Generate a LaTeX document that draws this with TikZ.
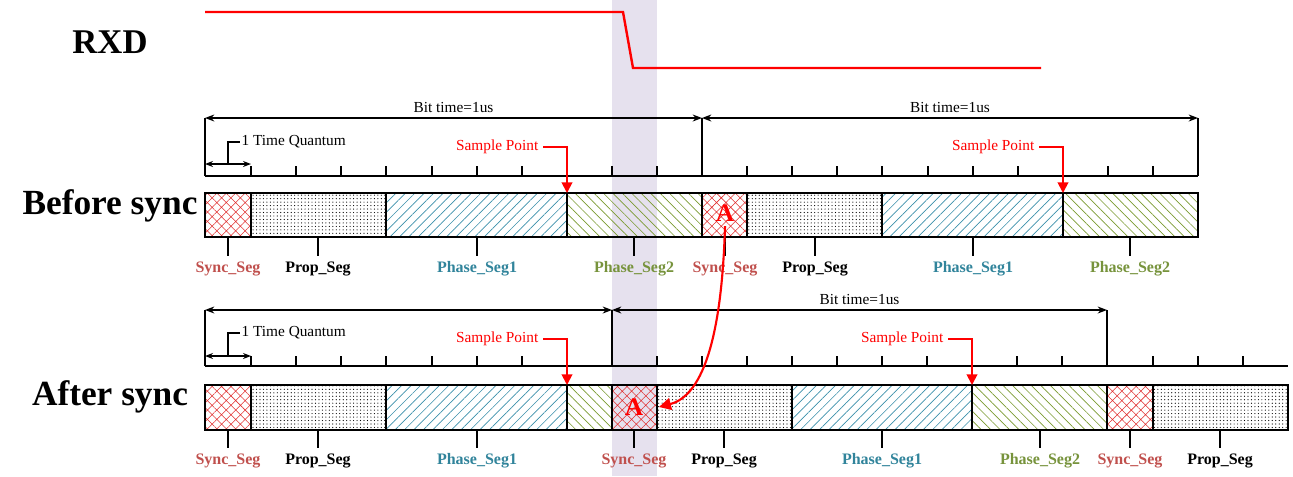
\documentclass[tikz,border=0pt]{standalone}
\usepackage{fontspec}
\setmainfont{Liberation Serif}
\usetikzlibrary{patterns.meta,arrows.meta}
\definecolor{syncc}{HTML}{E03030}
\definecolor{ph1c}{HTML}{3A8FAA}
\definecolor{ph2c}{HTML}{7A9A30}
\definecolor{synct}{HTML}{C0504D}
\definecolor{ph1t}{HTML}{31849B}
\definecolor{ph2t}{HTML}{77933C}
\definecolor{colshade}{HTML}{E6E1EE}
\begin{document}
\begin{tikzpicture}[x=0.75pt,y=-0.75pt,
  box/.style={draw=black,line width=1.4pt},
  sync/.style={box,pattern={Hatch[angle=45,distance=5pt,line width=0.4pt]},pattern color=syncc},
  prop/.style={box,pattern={Dots[distance=2.6pt,radius=0.45pt]},pattern color=black},
  ph1/.style={box,pattern={Lines[angle=45,distance=5pt,line width=0.5pt]},pattern color=ph1c},
  ph2/.style={box,pattern={Lines[angle=-45,distance=5pt,line width=0.5pt]},pattern color=ph2c},
  lab/.style={font=\fontsize{12}{14}\selectfont\bfseries,anchor=base},
  small/.style={font=\fontsize{11.5}{13}\selectfont},
  big/.style={font=\fontsize{26.5}{30}\selectfont\bfseries},
  ax/.style={line width=1.2pt},
  dim/.style={line width=1pt,{Stealth[length=7pt]}-{Stealth[length=7pt]}},
  sp/.style={red,line width=1.4pt,-{Triangle[length=8pt,width=8pt]}}]
\useasboundingbox (0,0) rectangle (1293,476);
% shaded column (behind)
\fill[fill=colshade] (612,0) rectangle (657,476);
% RXD
\node[big,font=\fontsize{26}{30}\selectfont\bfseries] (rxd) at (110,42) {RXD};
\draw[red,line width=1.8pt] (205,12) -- (623,12) -- (633,68) -- (1041,68);
\node[big] (bs) at (110,206) {Before sync};
\node[big] (as) at (110,397) {After sync};
% ---------- before sync ----------
\foreach \a/\b/\s in {205/251/sync,251/386/prop,386/567/ph1,567/702/ph2,702/747/sync,747/882/prop,882/1063/ph1,1063/1198/ph2}
  \draw[\s] (\a,193) rectangle (\b,237);
\draw[ax] (205,176) -- (1198,176);
\foreach \x in {251,296,341,386,432,477,522,567,612,657,747,792,837,882,928,973,1018,1063,1108,1153}
  \draw[ax] (\x,176) -- (\x,166);
\foreach \x in {205,702,1198} \draw[ax] (\x,176) -- (\x,118);
\coordinate (b1) at (205,118); \coordinate (b2) at (702,118); \coordinate (b3) at (1198,118);
\draw[dim] (b1) -- node[above,small,black]{Bit time=1us} (b2);
\draw[dim] (b2) -- node[above,small,black]{Bit time=1us} (b3);
\foreach \c/\t/\k in {228/Sync\_Seg/synct,318/Prop\_Seg/black,477/Phase\_Seg1/ph1t,634/Phase\_Seg2/ph2t,725/Sync\_Seg/synct,815/Prop\_Seg/black,973/Phase\_Seg1/ph1t,1130/Phase\_Seg2/ph2t}{
  \draw[line width=1pt] (\c,237) -- (\c,256);
  \node[lab,text=\k] at (\c,272) {\t};}
\node[small,red,anchor=east] (sp1) at (543,147) {Sample Point};
\draw[sp] (sp1.east) -| (567,193);
\node[small,red,anchor=east] (sp2) at (1039,147) {Sample Point};
\draw[sp] (sp2.east) -| (1063,193);
% time quantum
\coordinate (q1) at (205,164); \coordinate (q2) at (251,164);
\draw[dim,{Stealth[length=6pt]}-{Stealth[length=6pt]}] (q1) -- (q2);
\node[small,anchor=west,inner sep=1pt] (tq) at (240,142) {1 Time Quantum};
\draw[line width=1pt] (228,164) |- (tq.west);
% ---------- after sync ----------
\foreach \a/\b/\s in {205/251/sync,251/386/prop,386/567/ph1,567/612/ph2,612/657/sync,657/792/prop,792/972/ph1,972/1107/ph2,1107/1153/sync,1153/1288/prop}
  \draw[\s] (\a,385) rectangle (\b,430);
\draw[ax] (205,366) -- (1288,366);
\foreach \x in {251,296,341,386,432,477,522,567,657,702,747,792,837,882,927,972,1017,1062,1153,1198,1243}
  \draw[ax] (\x,366) -- (\x,356);
\foreach \x in {205,612,1107} \draw[ax] (\x,366) -- (\x,310);
\coordinate (c1) at (205,310); \coordinate (c2) at (612,310); \coordinate (c3) at (1107,310);
\draw[dim] (c1) -- (c2);
\draw[dim] (c2) -- node[above,small,black]{Bit time=1us} (c3);
\foreach \c/\t/\k in {228/Sync\_Seg/synct,318/Prop\_Seg/black,477/Phase\_Seg1/ph1t,634/Sync\_Seg/synct,724/Prop\_Seg/black,882/Phase\_Seg1/ph1t,1040/Phase\_Seg2/ph2t,1130/Sync\_Seg/synct,1220/Prop\_Seg/black}{
  \draw[line width=1pt] (\c,430) -- (\c,448);
  \node[lab,text=\k] at (\c,464) {\t};}
\node[small,red,anchor=east] (sp3) at (543,339) {Sample Point};
\draw[sp] (sp3.east) -| (567,385);
\node[small,red,anchor=east] (sp4) at (948,339) {Sample Point};
\draw[sp] (sp4.east) -| (972,385);
\coordinate (r1) at (205,356); \coordinate (r2) at (251,356);
\draw[dim,{Stealth[length=6pt]}-{Stealth[length=6pt]}] (r1) -- (r2);
\node[small,anchor=west,inner sep=1pt] (tq2) at (240,333) {1 Time Quantum};
\draw[line width=1pt] (228,356) |- (tq2.west);
% A labels and arrow
\node[font=\fontsize{19}{21}\selectfont\bfseries,text=red] (A1) at (725,213) {A};
\node[font=\fontsize{19}{21}\selectfont\bfseries,text=red] (A2) at (634,407) {A};
\draw[red,line width=1.6pt,-{Triangle[length=9pt,width=9pt]}] (A1.south) .. controls (722,330) and (705,395) .. (659,407);
\end{tikzpicture}
\end{document}
